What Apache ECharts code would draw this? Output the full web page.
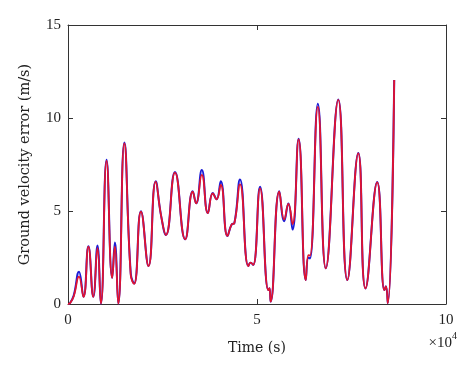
<!DOCTYPE html>
<html>
<head>
<meta charset="utf-8">
<script src="https://cdn.jsdelivr.net/npm/echarts@6/dist/echarts.min.js"></script>
<style>html,body{margin:0;padding:0;background:#fff}#c{width:474px;height:379px}</style>
</head>
<body>
<div id="c"></div>
<script>
// Time in units of 10^4 s
var timeValues = [0.00,0.05,0.15,0.29,0.41,0.54,0.67,0.78,0.87,1.02,1.17,1.24,1.33,1.49,1.66,1.75,1.93,2.13,2.32,2.46,2.59,2.83,3.10,3.30,3.39,3.54,3.70,3.83,3.93,4.04,4.22,4.33,4.40,4.55,4.77,4.83,4.90,5.08,5.30,5.33,5.36,5.59,5.72,5.83,5.94,6.10,6.29,6.36,6.40,6.61,6.82,7.15,7.39,7.68,7.87,8.18,8.37,8.41,8.46,8.63];
var redValues  = [0.00,0.04,0.40,1.47,0.39,3.08,0.39,3.00,0.02,7.70,1.41,3.08,0.02,8.64,1.55,1.08,4.96,2.04,6.58,4.78,3.71,7.06,3.48,6.04,5.41,6.94,4.89,5.95,5.63,6.40,3.66,4.28,4.34,6.43,2.04,2.22,2.10,6.22,0.75,0.85,0.13,6.04,4.55,5.38,4.30,8.85,1.29,2.63,2.60,10.60,1.92,10.97,1.29,8.10,0.84,6.54,0.75,0.95,0.04,12.04];
var blueValues = [0.00,0.04,0.45,1.74,0.39,3.10,0.39,3.15,0.02,7.75,1.41,3.30,0.02,8.68,1.65,1.10,4.98,2.04,6.60,4.78,3.71,7.10,3.48,6.06,5.41,7.20,4.89,5.97,5.63,6.60,3.66,4.28,4.34,6.70,2.04,2.22,2.10,6.30,0.75,0.85,0.13,6.06,4.45,5.40,4.00,8.88,1.29,2.50,2.45,10.77,1.92,11.00,1.29,8.12,0.84,6.56,0.75,0.95,0.04,12.04];
var xTicks = [0, 5, 10];
var yTicks = [0, 5, 10, 15];

function pairs(xs, ys){ return xs.map(function(x,i){ return [x, ys[i]]; }); }

var tickFont = 'Liberation Serif';
var nameFont = 'DejaVu Serif';
var txt = '#222';
var chart = echarts.init(document.getElementById('c'));
function axisCommon(){
  return {
    axisLine: {show: true, onZero: false, lineStyle: {color: '#333', width: 1}},
    axisTick: {show: true, inside: true, length: 5, lineStyle: {color: '#333'}},
    splitLine: {show: false}
  };
}
chart.setOption({
  animation: false,
  backgroundColor: '#fff',
  grid: {left: 68, right: 28, top: 25, bottom: 75, show: false},
  xAxis: [
    Object.assign({
      type: 'value', min: xTicks[0], max: xTicks[xTicks.length-1], interval: 5,
      name: 'Time (s)', nameLocation: 'middle', nameGap: 37,
      nameTextStyle: {fontFamily: nameFont, fontSize: 14, color: txt},
      axisLabel: {fontFamily: tickFont, fontSize: 15, color: txt, margin: 9}
    }, axisCommon()),
    Object.assign({
      type: 'value', position: 'top', min: xTicks[0], max: xTicks[xTicks.length-1], interval: 5,
      axisLabel: {show: false}
    }, axisCommon())
  ],
  yAxis: [
    Object.assign({
      type: 'value', min: yTicks[0], max: yTicks[yTicks.length-1], interval: 5,
      name: 'Ground velocity error (m/s)', nameLocation: 'middle', nameGap: 35,
      nameTextStyle: {fontFamily: nameFont, fontSize: 14.5, color: txt},
      axisLabel: {fontFamily: tickFont, fontSize: 15, color: txt, margin: 7}
    }, axisCommon()),
    Object.assign({
      type: 'value', position: 'right', min: yTicks[0], max: yTicks[yTicks.length-1], interval: 5,
      axisLabel: {show: false}
    }, axisCommon())
  ],
  graphic: [
    {type: 'text', style: {text: '\u00d710', x: 452, y: 343, textAlign: 'right', textVerticalAlign: 'middle', font: '15px "Liberation Serif"', fill: txt}},
    {type: 'text', style: {text: '4', x: 452, y: 336, textAlign: 'left', textVerticalAlign: 'middle', font: '10px "Liberation Serif"', fill: txt}}
  ],
  series: [
    {type: 'line', data: pairs(timeValues, blueValues), smooth: 0.5, symbol: 'none',
     lineStyle: {color: '#1c1cd6', width: 2}, z: 2},
    {type: 'line', data: pairs(timeValues, redValues), smooth: 0.5, symbol: 'none',
     lineStyle: {color: '#e3132e', width: 1.8}, z: 3}
  ]
});
</script>
</body>
</html>
